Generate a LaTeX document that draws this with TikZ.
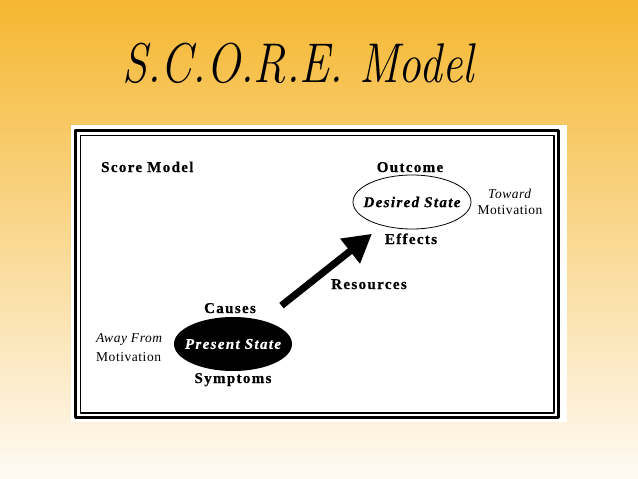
\documentclass[tikz,border=0pt]{standalone}
\usepackage{fontspec}
\setmainfont{Liberation Serif}
\newfontfamily\labelfont{Liberation Serif}[LetterSpace=9,UprightFont=* Bold,ItalicFont=* Bold Italic,FakeBold=0.6]
\newfontfamily\sidefont{Liberation Serif}[LetterSpace=4]
\newfontfamily\titlefont{Latin Modern Roman}
\usetikzlibrary{arrows.meta,shapes.geometric,positioning}
\definecolor{goldtop}{RGB}{245,183,49}
\definecolor{goldmid}{RGB}{249,216,135}
\definecolor{creambot}{RGB}{254,250,244}
\begin{document}
\begin{tikzpicture}[x=1pt,y=-1pt,line join=round,>=Triangle]
	\tikzset{lbl/.style={font=\labelfont\fontsize{15}{18}\selectfont,inner sep=0pt},
		side/.style={font=\sidefont\fontsize{13.5}{16}\selectfont,inner sep=0pt},
		state/.style={ellipse,minimum width=118pt,minimum height=54pt,inner xsep=-7.5pt,inner ysep=0pt,font=\labelfont\fontsize{15}{18}\selectfont\itshape}}
	\useasboundingbox (0,0) rectangle (638,479);
	\shade[top color=goldtop,middle color=goldmid,bottom color=creambot] (0,0) rectangle (638,479);
	\node[anchor=base,inner sep=0pt,font=\titlefont\itshape\fontsize{56}{60}\selectfont,xscale=0.81] (title) at (298,82) {S.C.O.R.E. Model};
	\fill[white] (71,125) rectangle (567,422);
	\draw[line width=3pt] (75.5,130.5) rectangle (558.5,417);
	\draw[line width=1.2pt] (80.5,135.5) rectangle (554,413);
	\node[lbl,anchor=base west] (scoremodel) at (101,172) {Score Model};
	\node[lbl,anchor=base] (outcome) at (410,172) {Outcome};
	\node[state,draw,line width=0.8pt] (desired) at (412,202) {Desired State};
	\node[side,align=center] (toward) at (510,202) {\textit{Toward}\\Motivation};
	\node[lbl,anchor=base] (effects) at (411,244) {Effects};
	\node[lbl,anchor=base] (resources) at (369,289) {Resources};
	\node[lbl,anchor=base] (causes) at (230,313) {Causes};
	\node[state,fill=black,text=white] (present) at (233,344) {Present State};
	\node[lbl,anchor=base] (symptoms) at (233,383) {Symptoms};
	\node[side,align=left,anchor=west,font=\sidefont\fontsize{13.5}{19}\selectfont] (away) at (96,348) {\textit{Away From}\\Motivation};
	\draw[line width=7pt,-{Triangle[length=28pt,width=30pt]},shorten <=24pt,shorten >=13pt] (present) -- (desired);
\end{tikzpicture}
\end{document}
